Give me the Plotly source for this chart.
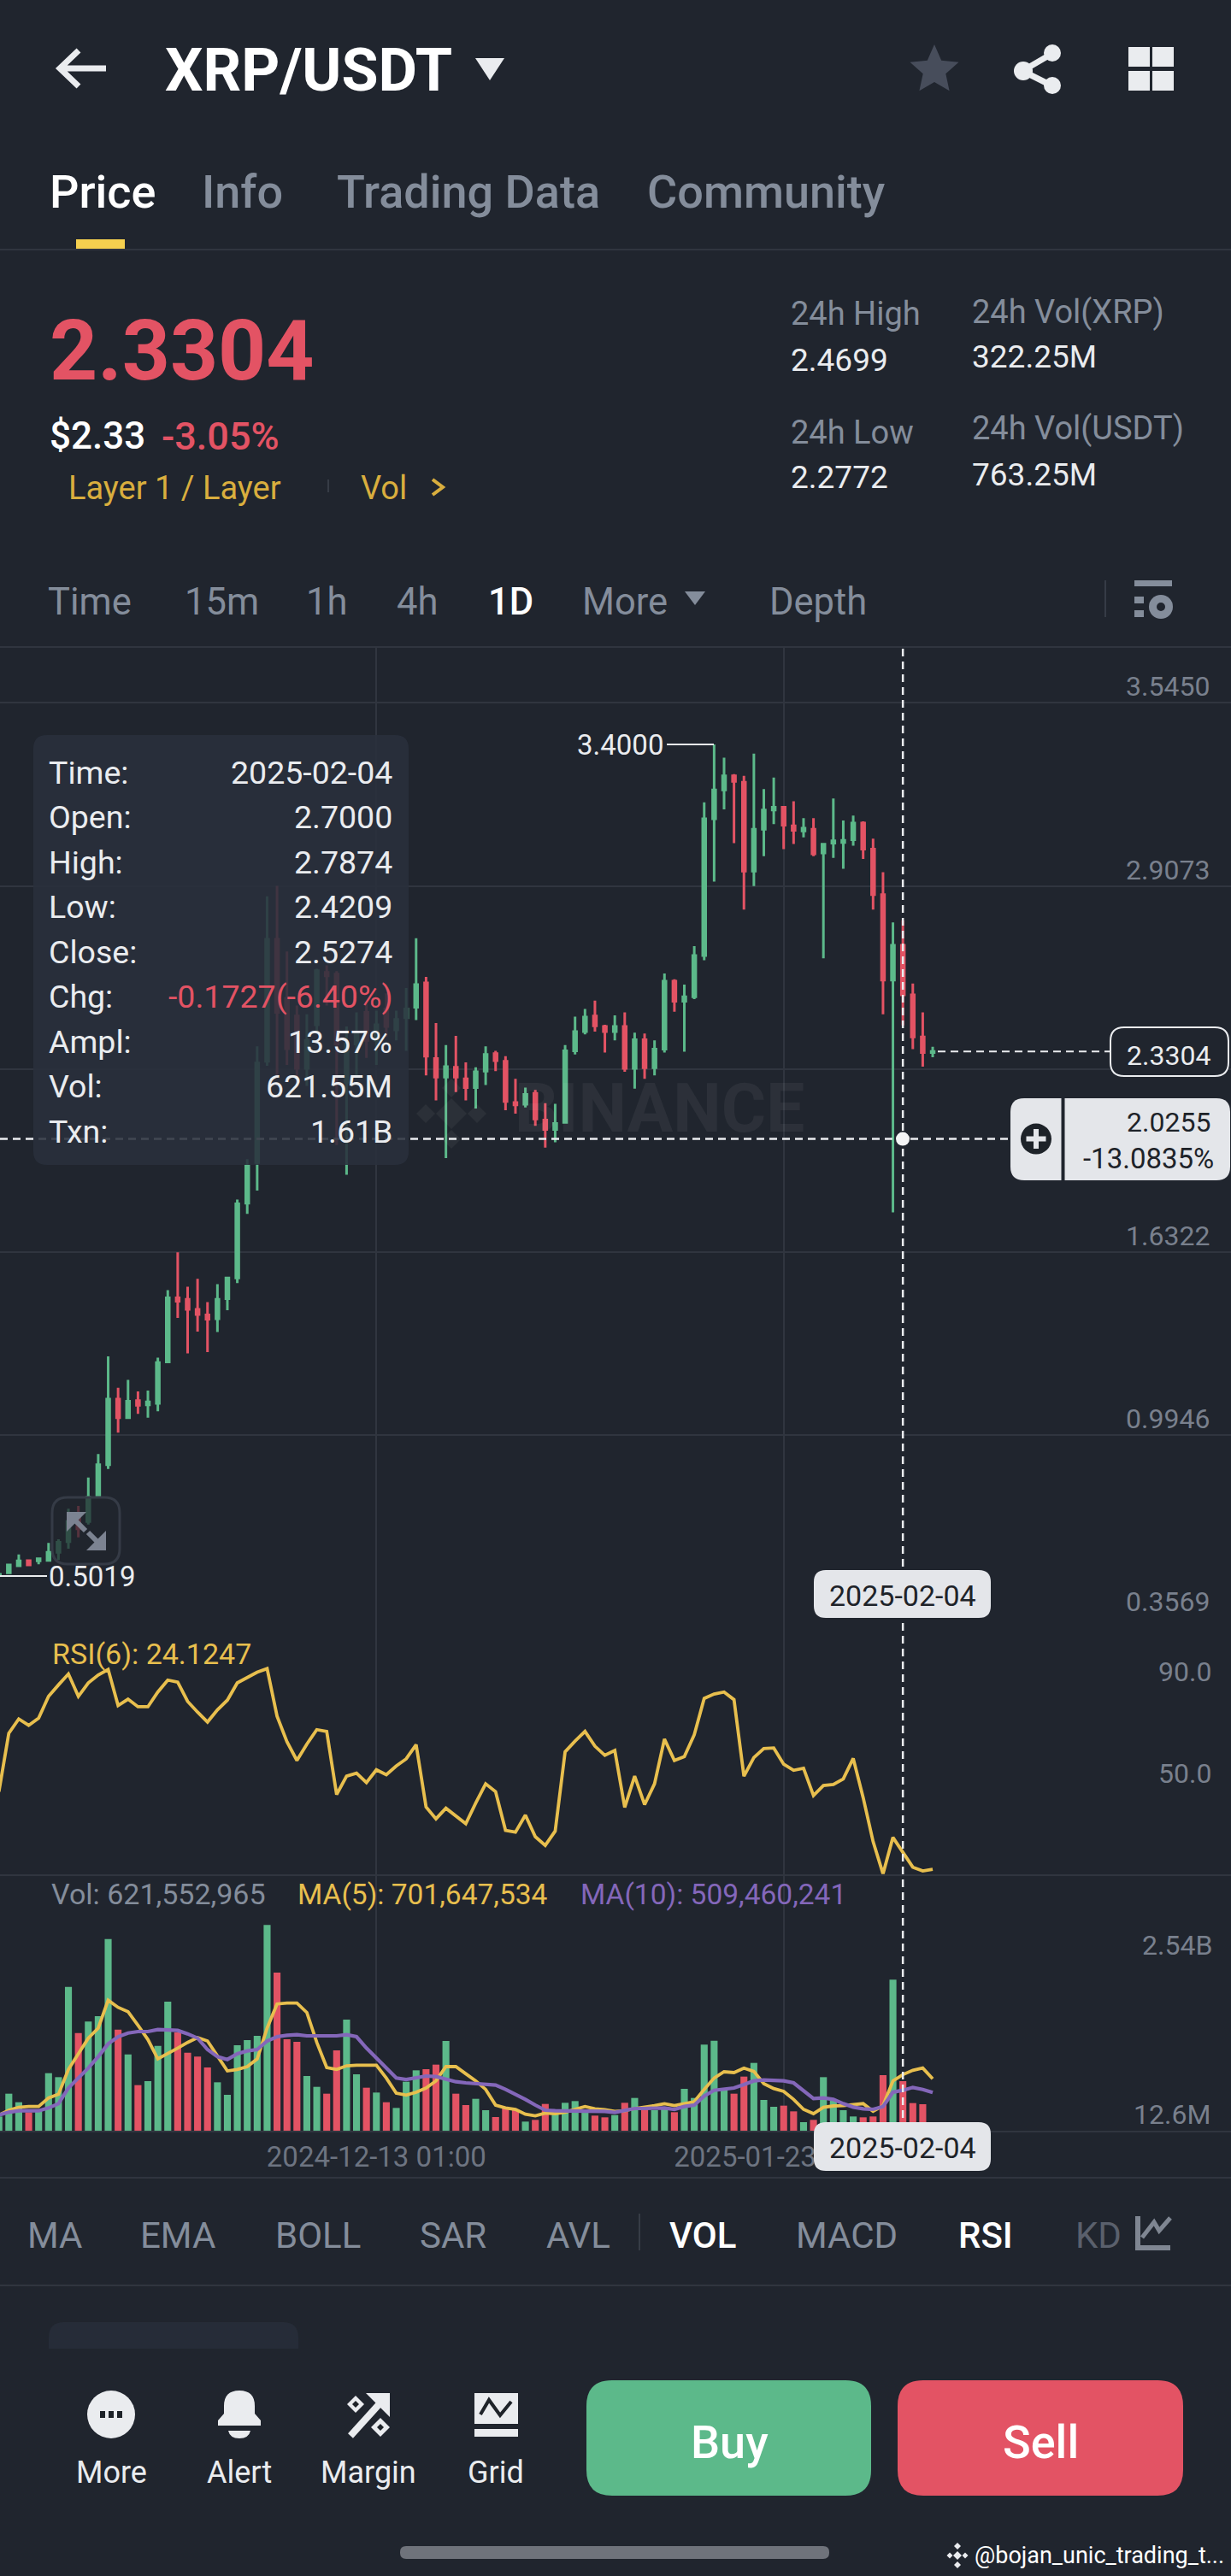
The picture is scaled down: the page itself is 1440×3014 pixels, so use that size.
import math
import pandas as pd
import plotly.graph_objects as go

W, H = 1440, 3014
BG = '#20252E'
GRID = '#30353F'
GREEN = '#5CB98A'
RED = '#E35364'
GRAY = '#848D9B'
AXIS_GRAY = '#79808D'
YELLOW = '#E8BF4E'
PURPLE = '#8467BA'
WHITE = '#EAECEF'
DARK = '#1E2329'
FONT = 'Roboto'

dates = pd.date_range('2024-11-05', periods=95).strftime('%Y-%m-%d').tolist()

opens = [
    .5040, .5128, .5377, .5555, .5545, .5565, .5843, .6221, .7164, .6916,
    .7790, .8903, 1.1187, 1.0541, 1.1137, 1.0988, 1.1038, 1.2478, 1.4713, 1.4663,
    1.4316, 1.4117, 1.3988, 1.4683, 1.5408, 1.8011, 1.9430, 2.2958, 2.7214, 2.5147,
    2.4539, 2.2715, 2.4235, 2.6059, 2.5998, 2.2228, 2.3566, 2.4661, 2.3688, 2.4782,
    2.4052, 2.4478, 2.4843, 2.5694, 2.3055, 2.2411, 2.2751, 2.2350, 2.2046, 2.2617,
    2.3225, 2.2958, 2.1523, 2.1462, 2.1839, 2.0915, 2.0586, 2.0829, 2.3323, 2.3992,
    2.4539, 2.4174, 2.3992, 2.4174, 2.2715, 2.3712, 2.2739, 2.3384, 2.5755, 2.5050,
    2.5208, 2.6643, 3.1410, 3.2420, 3.2906, 3.2687, 2.9586, 3.1046, 3.1714, 3.1812,
    3.1167, 3.0985, 3.1046, 3.0219, 3.0559, 3.0583, 3.0681, 3.1265, 3.0352, 2.8771,
    2.5792, 2.7000, 2.5274, 2.3809, 2.3262]
highs = [
    .5110, .5446, .5774, .5580, .5630, .6171, .6300, .7363, .7462, .8456,
    .9270, 1.2677, 1.1584, 1.1853, 1.1455, 1.1485, 1.2627, 1.4981, 1.6302, 1.5100,
    1.5379, 1.4564, 1.5190, 1.5438, 1.8140, 1.9552, 2.3480, 2.8710, 2.9075, 2.6789,
    2.4904, 2.4600, 2.6181, 2.6302, 2.6100, 2.4174, 2.4661, 2.4965, 2.4721, 2.5329,
    2.4721, 2.5512, 2.7251, 2.5901, 2.4296, 2.3529, 2.3846, 2.2921, 2.2751, 2.3480,
    2.3323, 2.3140, 2.2350, 2.2046, 2.1961, 2.1498, 2.1474, 2.3529, 2.4515, 2.4782,
    2.5074, 2.4235, 2.4563, 2.4661, 2.3955, 2.3931, 2.3688, 2.6023, 2.5816, 2.5633,
    2.6971, 3.1982, 3.4000, 3.3539, 3.2967, 3.2906, 3.3685, 3.2444, 3.2846, 3.1836,
    3.2019, 3.1435, 3.1435, 3.0559, 3.2116, 3.1350, 3.1520, 3.1325, 3.0717, 2.9550,
    2.7798, 2.7874, 2.5670, 2.4661, 2.3469]
lows = [
    .5019, .5100, .5350, .5390, .5426, .5545, .5575, .5973, .6370, .6817,
    .7760, .8754, 1.0015, 1.0530, 1.0671, 1.0541, 1.0760, 1.2450, 1.4018, 1.2776,
    1.3541, 1.2826, 1.3521, 1.4286, 1.5230, 1.7643, 1.8457, 2.2800, 2.2471, 2.2836,
    2.2106, 2.2106, 2.3931, 2.4904, 2.0039, 1.9005, 2.2471, 2.3079, 2.2836, 2.3809,
    2.3688, 2.3323, 2.4393, 2.2471, 2.1596, 1.9589, 2.1888, 2.1596, 2.1316, 2.2131,
    2.2617, 2.1255, 2.1134, 2.1352, 2.0708, 1.9954, 2.0136, 2.0793, 2.3200, 2.3900,
    2.3992, 2.3262, 2.3688, 2.2593, 2.2009, 2.2350, 2.2471, 2.3262, 2.4685, 2.3298,
    2.5123, 2.6485, 2.9221, 3.1739, 3.0559, 2.8248, 2.9063, 3.0109, 3.1228, 3.0352,
    3.0535, 3.0766, 3.0109, 2.6546, 3.0048, 2.9671, 3.0474, 3.0012, 2.8248, 2.4600,
    1.7693, 2.4209, 2.3384, 2.2775, 2.3104]
closes = [
    .5080, .5406, .5545, .5406, .5625, .5843, .6200, .6916, .6668, .7760,
    .8903, 1.1187, 1.0541, 1.1108, 1.0969, 1.1088, 1.2458, 1.4713, 1.4594, 1.4316,
    1.4137, 1.3968, 1.4663, 1.5408, 1.7991, 1.9309, 2.2897, 2.7214, 2.4661, 2.3400,
    2.2715, 2.3688, 2.6120, 2.5938, 2.3566, 2.3566, 2.3931, 2.3688, 2.4235, 2.4174,
    2.4417, 2.4782, 2.5633, 2.3140, 2.2411, 2.2775, 2.2411, 2.2046, 2.2593, 2.3201,
    2.2982, 2.1559, 2.1438, 2.1802, 2.0951, 2.0586, 2.0793, 2.3323, 2.3992, 2.4502,
    2.4198, 2.3992, 2.4174, 2.2715, 2.3712, 2.2739, 2.3384, 2.5755, 2.5050, 2.5208,
    2.6643, 3.1410, 3.2420, 3.2906, 3.2712, 2.9586, 3.1046, 3.1714, 3.1812, 3.1191,
    3.1009, 3.1082, 3.0194, 3.0523, 3.0644, 3.0656, 3.1265, 3.0352, 2.8771, 2.5792,
    2.7000, 2.5274, 2.3809, 2.3262, 2.3304]

rsi6 = [
    48.1, 71.1, 76.7, 74.2, 77.0, 85.6, 90.1, 94.4, 85.6, 90.9,
    94.0, 96.2, 82.0, 84.5, 81.5, 81.5, 87.3, 92.0, 91.2, 83.6,
    79.4, 75.5, 80.3, 84.1, 90.9, 92.9, 95.1, 96.5, 77.8, 67.7,
    60.4, 66.8, 72.5, 71.8, 47.0, 54.2, 55.4, 51.7, 56.7, 54.8,
    58.2, 61.0, 66.6, 42.1, 37.4, 41.6, 38.5, 35.5, 43.6, 51.2,
    48.1, 32.9, 32.2, 38.9, 30.4, 27.0, 32.6, 63.8, 68.0, 71.8,
    66.0, 62.4, 64.3, 41.9, 54.2, 43.0, 51.2, 68.8, 60.4, 61.9,
    70.5, 84.8, 86.5, 87.3, 84.3, 54.2, 61.5, 65.1, 65.3, 58.9,
    56.5, 57.3, 46.6, 50.5, 50.9, 53.1, 61.2, 45.8, 28.5, 15.8,
    30.1, 24.1247, 18.4, 16.9, 17.6]

# volumes in millions
volumes = [
    187.6, 467.6, 362.6, 240.1, 257.6, 719.6, 670.6, 1780.1, 1213.1, 1353.1,
    1419.6, 2368.1, 1255.1, 950.6, 572.6, 621.6, 1055.6, 1598.1, 1220.1, 971.6,
    922.6, 789.6, 607.6, 453.6, 1062.6, 1125.6, 1178.1, 2539.6, 1955.1, 1136.1,
    1104.6, 684.6, 551.6, 467.6, 999.6, 1377.6, 705.6, 541.1, 481.6, 362.6,
    292.6, 614.6, 754.6, 768.6, 824.6, 1115.1, 467.6, 327.6, 404.6, 264.6,
    180.6, 292.6, 275.1, 124.6, 145.6, 341.6, 250.6, 355.6, 376.6, 275.1,
    198.1, 177.1, 205.1, 355.6, 415.1, 275.1, 264.6, 275.1, 240.1, 527.1,
    415.1, 1069.6, 1118.6, 509.6, 467.6, 677.6, 845.6, 390.6, 306.6, 320.6,
    250.6, 117.6, 145.6, 670.6, 380.1, 264.6, 187.6, 177.1, 187.6, 695.1,
    1867.6, 621.55, 352.1, 338.1, 82.6]
ma5 = [
    205.1, 264.6, 299.6, 310.1, 310.1, 415.1, 460.6, 765.1, 957.6, 1150.1,
    1272.6, 1615.6, 1528.1, 1475.6, 1307.6, 1132.6, 894.6, 957.6, 1027.6, 1097.6,
    1157.1, 1115.1, 922.6, 747.6, 765.1, 800.1, 894.6, 1272.6, 1570.1, 1580.6,
    1580.6, 1465.1, 1097.6, 789.6, 765.1, 810.6, 817.6, 817.6, 817.6, 660.1,
    474.6, 450.1, 485.1, 537.6, 625.1, 800.1, 800.1, 712.6, 625.1, 520.1,
    327.6, 292.6, 275.1, 215.6, 194.6, 229.6, 222.6, 240.1, 275.1, 310.1,
    282.1, 271.6, 250.6, 257.6, 285.6, 299.6, 320.6, 345.1, 320.6, 345.1,
    369.6, 520.1, 660.1, 737.1, 726.6, 782.6, 740.6, 590.1, 530.6, 495.6,
    397.6, 275.1, 222.6, 299.6, 317.1, 320.6, 334.6, 345.1, 250.6, 320.6,
    625.1, 701.65, 754.6, 782.6, 649.6]
ma10 = [
    205.1, 240.1, 257.6, 257.6, 257.6, 292.6, 345.1, 537.6, 660.1, 782.6,
    922.6, 1080.1, 1167.6, 1213.1, 1230.6, 1230.6, 1255.1, 1244.6, 1244.6, 1202.6,
    1150.1, 1010.1, 922.6, 887.6, 957.6, 992.6, 1010.1, 1115.1, 1167.6, 1185.1,
    1192.1, 1178.1, 1178.1, 1178.1, 1178.1, 1192.1, 1167.6, 1027.6, 905.1, 782.6,
    660.1, 642.6, 660.1, 684.6, 677.6, 642.6, 614.6, 600.6, 590.1, 586.6,
    572.6, 520.1, 460.6, 397.6, 327.6, 264.6, 257.6, 257.6, 257.6, 257.6,
    257.6, 250.6, 236.6, 257.6, 285.6, 285.6, 292.6, 292.6, 275.1, 310.1,
    327.6, 439.6, 509.6, 527.1, 537.6, 579.6, 625.1, 635.6, 635.6, 625.1,
    600.6, 502.6, 408.1, 415.1, 397.6, 345.1, 303.1, 282.1, 275.1, 310.1,
    485.1, 509.46, 544.6, 520.1, 481.6]

price_ticks = [3.5450, 2.9073, 2.2697, 1.6322, 0.9946, 0.3569]
price_labels = ['3.5450', '2.9073', '', '1.6322', '0.9946', '0.3569']
time_ticks = ['2024-12-13', '2025-01-23']
time_labels = ['2024-12-13 01:00', '2025-01-23 01:00']

tooltip_names = ['Time:', 'Open:', 'High:', 'Low:', 'Close:', 'Chg:', 'Ampl:', 'Vol:', 'Txn:']
tooltip_values = ['2025-02-04', '2.7000', '2.7874', '2.4209', '2.5274',
                  '-0.1727(-6.40%)', '13.57%', '621.55M', '1.61B']

selected_date = '2025-02-04'
selected_price = 2.0255
last_price = 2.3304

fig = go.Figure()

fig.add_trace(go.Candlestick(
    x=dates, open=opens, high=highs, low=lows, close=closes,
    increasing=dict(line=dict(color=GREEN, width=3), fillcolor=GREEN),
    decreasing=dict(line=dict(color=RED, width=3), fillcolor=RED),
    whiskerwidth=0, hoverinfo='skip', xaxis='x', yaxis='y', showlegend=False))
fig.add_trace(go.Scatter(
    x=dates, y=rsi6, mode='lines', line=dict(color=YELLOW, width=3.8),
    hoverinfo='skip', xaxis='x2', yaxis='y2', showlegend=False))
fig.add_trace(go.Bar(
    x=dates, y=volumes,
    marker=dict(color=[GREEN if c >= o else RED for o, c in zip(opens, closes)], line_width=0),
    hoverinfo='skip', xaxis='x3', yaxis='y3', showlegend=False))
fig.add_trace(go.Scatter(
    x=dates, y=ma5, mode='lines', line=dict(color=YELLOW, width=3.8),
    hoverinfo='skip', xaxis='x3', yaxis='y3', showlegend=False))
fig.add_trace(go.Scatter(
    x=dates, y=ma10, mode='lines', line=dict(color=PURPLE, width=4.2),
    hoverinfo='skip', xaxis='x3', yaxis='y3', showlegend=False))
# empty trace so the pixel overlay axes exist
fig.add_trace(go.Scatter(
    x=[0], y=[0], mode='none', hoverinfo='skip', xaxis='x4', yaxis='y4', showlegend=False))

shapes = []
annotations = []


def text(s, x, y, size, color=WHITE, anchor='left', weight='normal'):
    annotations.append(dict(
        text=s, x=x, y=y, xref='x4', yref='y4', xanchor=anchor, yanchor='middle',
        showarrow=False, borderpad=0,
        font=dict(family=FONT, size=size, color=color, weight=weight)))


def path(d, fill=None, line=None, width=0, dash=None):
    shapes.append(dict(
        type='path', path=d, xref='x4', yref='y4', layer='above',
        fillcolor=fill or 'rgba(0,0,0,0)',
        line=dict(color=line or 'rgba(0,0,0,0)', width=width, dash=dash or 'solid')))


def rrect(x0, y0, x1, y1, r, **kw):
    path(f'M {x0+r} {y0} L {x1-r} {y0} Q {x1} {y0} {x1} {y0+r} L {x1} {y1-r} Q {x1} {y1} {x1-r} {y1} '
         f'L {x0+r} {y1} Q {x0} {y1} {x0} {y1-r} L {x0} {y0+r} Q {x0} {y0} {x0+r} {y0} Z', **kw)


def circle(cx, cy, r, color):
    shapes.append(dict(type='circle', xref='x4', yref='y4', layer='above',
                       x0=cx-r, x1=cx+r, y0=cy-r, y1=cy+r, fillcolor=color, line_width=0))


def diamond(cx, cy, r, color):
    path(f'M {cx} {cy-r} L {cx+r} {cy} L {cx} {cy+r} L {cx-r} {cy} Z', fill=color)


# --- header ---
path('M 124 80 L 72 80 M 92 59 L 70 80 L 92 101', line=WHITE, width=7)
text('XRP/USDT', 192, 82, 70, '#FFFFFF', weight='bold')
path('M 556 68 L 590 68 L 573 94 Z', fill=WHITE)
star = []
for k in range(10):
    rad = 30 if k % 2 == 0 else 14
    ang = -math.pi / 2 + k * math.pi / 5
    star.append(f'{1093 + rad * math.cos(ang):.1f} {82 + rad * math.sin(ang):.1f}')
path('M ' + ' L '.join(star) + ' Z', fill='#474D5B')
path('M 1232 62 L 1196 83 L 1232 101', line=WHITE, width=7)
circle(1231, 62, 10, WHITE)
circle(1197, 83, 11, WHITE)
circle(1231, 100, 10, WHITE)
for gx, gy in [(1320, 55), (1348, 55), (1320, 83), (1348, 83)]:
    path(f'M {gx} {gy} L {gx+25} {gy} L {gx+25} {gy+23} L {gx} {gy+23} Z', fill=WHITE)

for s, x, c in [('Price', 57, '#FFFFFF'), ('Info', 235, GRAY), ('Trading Data', 393, GRAY), ('Community', 756, GRAY)]:
    text(s, x, 224, 54, c, weight=500)
path('M 89 280 L 146 280 L 146 291 L 89 291 Z', fill='#F5D04F')
path(f'M 0 292 L {W} 292', line=GRID, width=2)

text('2.3304', 57, 410, 98, RED, weight='bold')
text('$2.33', 57, 510, 44, '#FFFFFF', weight=500)
text('-3.05%', 188, 510, 45, RED, weight=500)
text('Layer 1 / Layer', 79, 571, 38, '#D9AE3E')
path('M 384 561 L 384 576', line='#363C46', width=2)
text('Vol', 421, 571, 38, '#D9AE3E')
path('M 506 561 L 518 570 L 506 579', line='#D9AE3E', width=4)

for s, y in [('24h High', 367), ('24h Low', 505.6)]:
    text(s, 924, y, 38, GRAY)
for s, y in [('2.4699', 421), ('2.2772', 558)]:
    text(s, 924, y, 37, WHITE)
for s, y in [('24h Vol(XRP)', 364.5), ('24h Vol(USDT)', 500.7)]:
    text(s, 1136, y, 38, GRAY)
for s, y in [('322.25M', 417), ('763.25M', 555)]:
    text(s, 1136, y, 37, WHITE)

for s, x in [('Time', 55), ('15m', 215), ('1h', 357), ('4h', 463), ('More', 680), ('Depth', 899)]:
    text(s, x, 704, 43.5, GRAY)
text('1D', 570, 704, 43.5, '#FFFFFF', weight=500)
path('M 801 692 L 825 692 L 813 708 Z', fill=GRAY)
path('M 1293 679 L 1293 722', line='#363C46', width=2)
path('M 1327 679 L 1371 679 L 1371 686 L 1327 686 Z', fill=GRAY)
path('M 1327 698 L 1338 698 L 1338 706 L 1327 706 Z M 1327 714 L 1338 714 L 1338 722 L 1327 722 Z', fill=GRAY)
circle(1358, 710, 14, GRAY)
circle(1358, 710, 5, BG)
path(f'M 0 757 L {W} 757', line=GRID, width=2)

# --- price panel furniture ---
for cx, cy, r in [(528, 1303, 18), (498, 1303, 11), (558, 1303, 11), (528, 1273, 11), (528, 1333, 11)]:
    diamond(cx, cy, r, 'rgba(255,255,255,0.05)')
text('BINANCE', 601, 1297, 80, 'rgba(255,255,255,0.055)', weight='bold')

for tick, label in zip(price_ticks, price_labels):
    if label:
        annotations.append(dict(
            text=label, x=1417, y=tick, xref='x4', yref='y', xanchor='right', yanchor='middle',
            yshift=19, showarrow=False, font=dict(family=FONT, size=32, color=AXIS_GRAY)))

# high / low markers
annotations.append(dict(text='3.4000', x=778, y=3.4, xref='x4', yref='y', xanchor='right', yanchor='middle',
                        showarrow=False, font=dict(family=FONT, size=33, color=WHITE)))
annotations.append(dict(text='0.5019', x=55, y=0.5019, xref='x4', yref='y', xanchor='left', yanchor='middle',
                        showarrow=False, font=dict(family=FONT, size=33, color=WHITE)))
shapes.append(dict(type='line', xref='x4', yref='y', x0=780, x1=835, y0=3.4, y1=3.4, layer='above',
                   line=dict(color=WHITE, width=2)))
shapes.append(dict(type='line', xref='x4', yref='y', x0=0, x1=55, y0=0.5019, y1=0.5019, layer='above',
                   line=dict(color=WHITE, width=2)))

# last price
shapes.append(dict(type='line', xref='x4', yref='y', x0=1097, x1=1298, y0=last_price, y1=last_price, layer='above',
                   line=dict(color=WHITE, width=2, dash='9px,6px')))
rrect(1299, 1202, 1437, 1259, 16, fill=BG, line=WHITE, width=2)
text('2.3304', 1417, 1235, 32, WHITE, anchor='right')

# crosshair
shapes.append(dict(type='line', xref='x', yref='paper', x0=selected_date, x1=selected_date, y0=1 - 2493 / H, y1=1 - 757 / H,
                   layer='above', line=dict(color=WHITE, width=2.5, dash='9px,6px')))
shapes.append(dict(type='line', xref='x4', yref='y', x0=0, x1=1182, y0=selected_price, y1=selected_price,
                   layer='above', line=dict(color=WHITE, width=2.5, dash='9px,6px')))
circle(1056, 1332.6, 8, '#F4F5F6')

rrect(1182, 1285, 1439, 1381, 16, fill='#E4E6EA')
path('M 1243.5 1285 L 1243.5 1381', line=BG, width=4)
circle(1212, 1332.6, 18, DARK)
path('M 1212 1321 L 1212 1344 M 1200.5 1332.6 L 1223.5 1332.6', line='#E4E6EA', width=6)
text('2.0255', 1417, 1313, 32, DARK, anchor='right')
text('-13.0835%', 1421, 1355, 33, DARK, anchor='right')

# tooltip
rrect(39, 860, 478, 1363, 16, fill='rgba(41,48,60,0.88)')
for k, (name, val) in enumerate(zip(tooltip_names, tooltip_values)):
    y = 903.7 + k * 52.5
    text(name, 56, y, 37.5, WHITE)
    text(val, 460, y, 37.5, RED if val.startswith('-') else WHITE, anchor='right')

# expand button
rrect(61, 1752, 140, 1830, 18, fill='rgba(32,37,46,0.72)', line='#353B46', width=3)
path('M 78 1769 L 101 1769 L 78 1792 Z M 124 1814 L 101 1814 L 124 1791 Z', fill='#7C8391')
path('M 86 1777 L 100 1791 M 116 1806 L 103 1793', line='#7C8391', width=6)

# date labels
rrect(952, 1837, 1159, 1893, 14, fill='#E4E6EA')
text(selected_date, 1056, 1867, 34, DARK, anchor='center')

# --- RSI panel text ---
text('RSI(6): 24.1247', 60, 1935, 34, YELLOW)
text('90.0', 1418, 1956, 32, AXIS_GRAY, anchor='right')
text('50.0', 1418, 2075, 32, AXIS_GRAY, anchor='right')

# --- volume panel text ---
text('Vol: 621,552,965', 59, 2216, 34, GRAY)
text('MA(5): 701,647,534', 347, 2216, 33.5, YELLOW)
text('MA(10): 509,460,241', 678, 2216, 33.5, PURPLE)
text('2.54B', 1419, 2276, 32, AXIS_GRAY, anchor='right')
text('12.6M', 1417, 2474, 32, AXIS_GRAY, anchor='right')
rrect(952, 2483, 1159, 2540, 14, fill='#E4E6EA')
text(selected_date, 1056, 2513, 34, DARK, anchor='center')

# --- indicator tabs ---
path(f'M 0 2548 L {W} 2548', line=GRID, width=2)
path(f'M 0 2674 L {W} 2674', line=GRID, width=2)
for s, x in [('MA', 64), ('EMA', 208), ('BOLL', 372), ('SAR', 530), ('AVL', 676), ('MACD', 990)]:
    text(s, x, 2615, 42, GRAY, anchor='center')
for s, x in [('VOL', 822), ('RSI', 1153)]:
    text(s, x, 2615, 42, '#FFFFFF', anchor='center', weight=500)
text('KD', 1257, 2615, 42, '#5A606C')
path('M 748 2590 L 748 2633', line='#363C46', width=2)
path('M 1331 2593 L 1331 2630 L 1369 2630', line='#7F8692', width=6)
path('M 1336 2618 L 1350 2600 L 1356 2610 L 1369 2595', line='#7F8692', width=5)

# --- bottom bar ---
path('M 57 2748 L 57 2735 Q 57 2717 75 2717 L 331 2717 Q 349 2717 349 2735 L 349 2748 Z', fill='#262C38')
circle(130, 2825, 28, WHITE)
for dx in [-10, 0, 10]:
    path(f'M {130+dx-3} 2821 L {130+dx+3} 2821 L {130+dx+3} 2829 L {130+dx-3} 2829 Z', fill=DARK)
path('M 255 2838 L 255 2832 L 262 2824 L 262 2815 Q 262 2797 280 2797 Q 298 2797 298 2815 '
     'L 298 2824 L 305 2832 L 305 2838 Z M 267 2844 L 293 2844 Q 291 2853 280 2853 Q 269 2853 267 2844 Z', fill=WHITE)
path('M 410 2850 L 448 2808', line=WHITE, width=8)
path('M 428 2800 L 456 2800 L 456 2828 Z', fill=WHITE)
diamond(416, 2813, 10, WHITE)
diamond(416, 2813, 4, DARK)
diamond(445, 2840, 11, WHITE)
diamond(445, 2840, 4, DARK)
path('M 555 2800 L 606 2800 L 606 2836 L 555 2836 Z M 555 2842 L 606 2842 L 606 2851 L 555 2851 Z', fill=WHITE)
path('M 562 2825 L 572 2808 L 585 2826 L 598 2810', line=DARK, width=4)
for s, x in [('More', 130), ('Alert', 280), ('Margin', 431), ('Grid', 580)]:
    text(s, x, 2893, 36, WHITE, anchor='center')

rrect(686, 2785, 1019, 2920, 30, fill=GREEN)
rrect(1050, 2785, 1384, 2920, 30, fill=RED)
text('Buy', 853, 2857, 54, '#FFFFFF', anchor='center', weight=500)
text('Sell', 1217, 2857, 54, '#FFFFFF', anchor='center', weight=500)

rrect(468, 2979, 970, 2994, 7, fill='#6F737B')
for cx, cy, r in [(1120, 2990, 5), (1111, 2990, 3.5), (1129, 2990, 3.5), (1120, 2979, 4), (1120, 3001, 4)]:
    diamond(cx, cy, r, WHITE)
text('@bojan_unic_trading_t...', 1139, 2990, 27, '#FFFFFF')

x_common = dict(
    type='date', range=['2024-11-05 02:41', '2025-03-09 00:43'], tickmode='array', tickvals=time_ticks,
    showgrid=True, gridcolor=GRID, gridwidth=2, zeroline=False, ticks='', showticklabels=False,
    fixedrange=True, rangeslider=dict(visible=False))

fig.update_layout(
    width=W, height=H, margin=dict(l=0, r=0, t=0, b=0),
    paper_bgcolor=BG, plot_bgcolor='rgba(0,0,0,0)', showlegend=False, hovermode=False,
    boxgap=0.57, bargap=0.3,
    font=dict(family=FONT, color=WHITE),
    xaxis=dict(domain=[0, 1], anchor='y', **x_common),
    xaxis2=dict(domain=[0, 1], anchor='y2', showline=True, linecolor=GRID, linewidth=2, **x_common),
    xaxis3=dict(domain=[0, 1], anchor='y3', showline=True, linecolor=GRID, linewidth=2, **x_common),
    yaxis=dict(domain=[1 - 1892.7 / H, 1 - 757 / H], anchor='x', range=[0.3569, 3.7399],
               tickmode='array', tickvals=price_ticks, showgrid=True, gridcolor=GRID, gridwidth=2,
               showticklabels=False, zeroline=False, fixedrange=True),
    yaxis2=dict(domain=[1 - 2192.7 / H, 1 - 1892.7 / H], anchor='x2', range=[15.7, 116.55],
                showgrid=False, showticklabels=False, zeroline=False, fixedrange=True),
    yaxis3=dict(domain=[1 - 2493 / H, 1 - 2192.7 / H], anchor='x3', range=[12.6, 3166],
                showgrid=False, showticklabels=False, zeroline=False, fixedrange=True),
    xaxis4=dict(domain=[0, 1], anchor='y4', range=[0, W], visible=False, fixedrange=True),
    yaxis4=dict(domain=[0, 1], anchor='x4', range=[H, 0], visible=False, fixedrange=True),
    shapes=shapes, annotations=annotations)

fig.update_xaxes(showticklabels=True, ticktext=time_labels, ticklabelstandoff=0,
                 tickfont=dict(family=FONT, size=33, color='#6D7481'), selector=dict(anchor='y3'))

fig.write_html('out.html', config=dict(displayModeBar=False),
               post_script="document.body.style.margin='0';document.documentElement.style.overflow='hidden';")
